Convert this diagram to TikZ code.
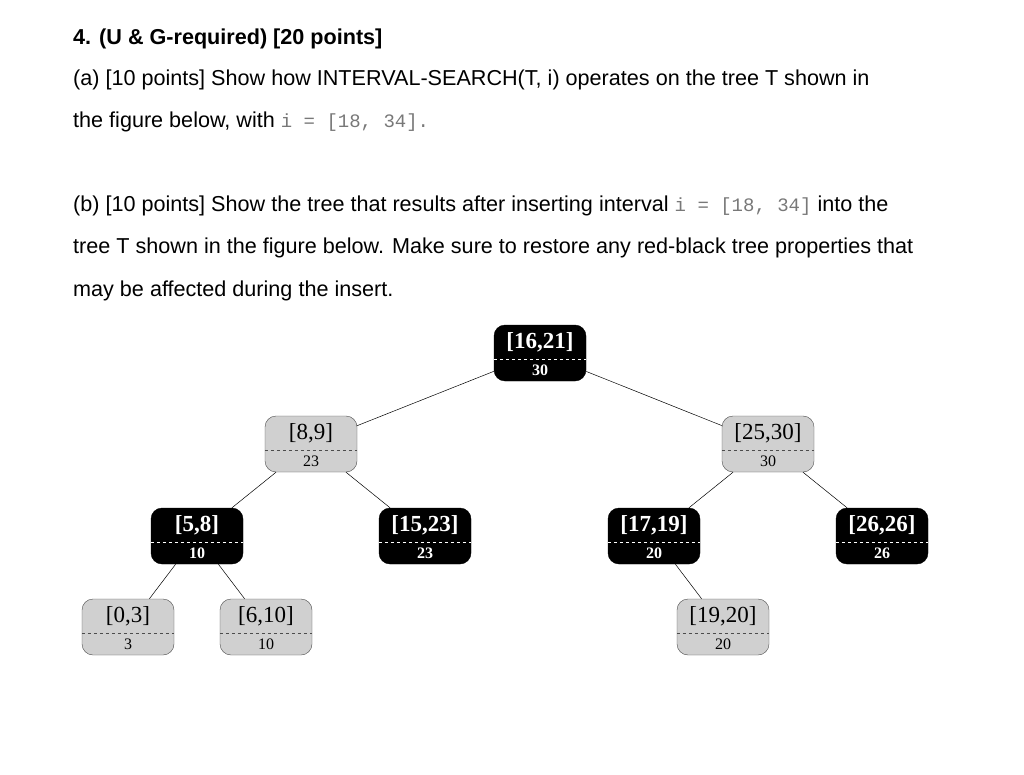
\documentclass[tikz,border=0pt]{standalone}
\usepackage{fontspec}
\setmainfont{Liberation Sans}
\newfontfamily\serf{Liberation Serif}
\newfontfamily\mono{Liberation Mono}
\definecolor{nodegray}{RGB}{208,208,208}
\definecolor{codegray}{RGB}{120,120,120}
\newcommand{\cd}[1]{{\mono\fontsize{19}{24}\selectfont\color{codegray}#1}}
\begin{document}
\begin{tikzpicture}[x=1pt,y=-1pt,
  txt/.style={anchor=base west,inner sep=0pt,font=\fontsize{21.6}{24}\selectfont},
  bbox/.style={draw=black,fill=black,rounded corners=11pt,minimum width=92pt,minimum height=56pt,inner sep=0pt},
  gbox/.style={draw=black!70,fill=nodegray,rounded corners=11pt,minimum width=92pt,minimum height=56pt,inner sep=0pt},
  edge/.style={draw=black,line width=0.5pt}]
\useasboundingbox (0,0) rectangle (1024,775);
\node[txt] (t1) at (73,45) {\bfseries 4. (U \& G-required) [20 points]};
\node[txt] (t2) at (73,86) {(a) [10 points] Show how INTERVAL-SEARCH(T, i) operates on the tree T shown in};
\node[txt] (t3) at (73,128) {the figure below, with \cd{i = [18, 34].}};
\node[txt] (t4) at (73,212) {(b) [10 points] Show the tree that results after inserting interval \cd{i = [18, 34]} into the};
\node[txt] (t5) at (73,254) {tree T shown in the figure below. Make sure to restore any red-black tree properties that};
\node[txt] (t6) at (73,296) {may be affected during the insert.};
\newcommand{\tn}[6]{%
  \node[#6] (#1) at (#2,#3) {};
  \ifx#6bbox
    \draw[white,dashed,line width=0.8pt] (#1.west)++(0,6) -- ++(92,0);
    \node[white,font=\serf\bfseries\fontsize{23}{24}\selectfont,inner sep=0pt] (#1i) at (#2,#3-11) {#4};
    \node[white,font=\serf\bfseries\fontsize{16}{16}\selectfont,inner sep=0pt] (#1m) at (#2,#3+17) {#5};
  \else
    \draw[black!70,dashed,line width=0.6pt] (#1.west)++(0,6) -- ++(92,0);
    \node[font=\serf\fontsize{23}{24}\selectfont,inner sep=0pt] (#1i) at (#2,#3-11) {#4};
    \node[font=\serf\fontsize{16}{16}\selectfont,inner sep=0pt] (#1m) at (#2,#3+17) {#5};
  \fi}
\tn{r}{540}{353}{[16,21]}{30}{bbox}
\tn{a}{311}{444}{[8,9]}{23}{gbox}
\tn{b}{768}{444}{[25,30]}{30}{gbox}
\tn{c}{197}{536}{[5,8]}{10}{bbox}
\tn{d}{425}{536}{[15,23]}{23}{bbox}
\tn{e}{654}{536}{[17,19]}{20}{bbox}
\tn{f}{882}{536}{[26,26]}{26}{bbox}
\tn{g}{128}{627}{[0,3]}{3}{gbox}
\tn{h}{266}{627}{[6,10]}{10}{gbox}
\tn{k}{723}{627}{[19,20]}{20}{gbox}
\draw[edge] (r) -- (a);
\draw[edge] (r) -- (b);
\draw[edge] (a) -- (c);
\draw[edge] (a) -- (d);
\draw[edge] (b) -- (e);
\draw[edge] (b) -- (f);
\draw[edge] (c) -- (g);
\draw[edge] (c) -- (h);
\draw[edge] (e) -- (k);
\end{tikzpicture}
\end{document}
